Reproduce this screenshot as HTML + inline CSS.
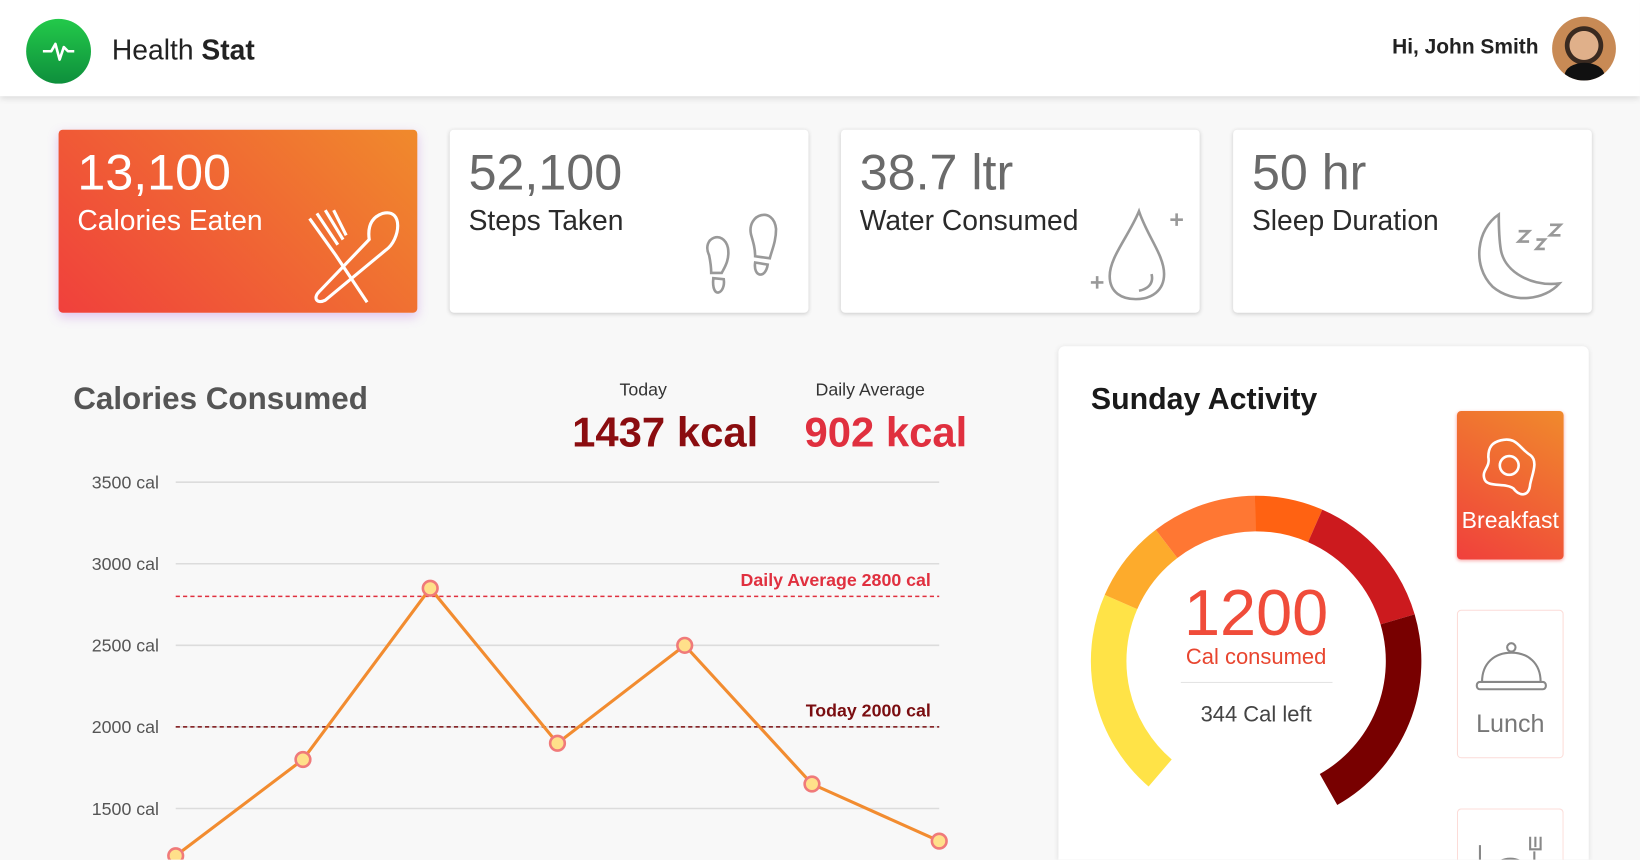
<!DOCTYPE html>
<html><head><meta charset="utf-8">
<style>
html,body{margin:0;padding:0;width:1640px;height:860px;overflow:hidden;background:#f8f8f8;font-family:"Liberation Sans",sans-serif;}
#wrap{position:absolute;left:0;top:0;width:1568px;height:822px;overflow:hidden;transform:scale(1.0459);transform-origin:0 0;}
.abs{position:absolute;}
.card{position:absolute;top:124px;width:343px;height:175px;background:#fff;border-radius:4px;box-shadow:0 1px 4px rgba(0,0,0,0.18);}
.num{position:absolute;left:18px;top:14px;font-size:48px;color:#6a6a6a;}
.lbl{position:absolute;left:18px;top:72px;font-size:27px;color:#2a2a2a;}
.card svg{position:absolute;}
</style></head><body>
<div id="wrap">
<div class="abs" style="left:0;top:0;width:1568px;height:92px;background:#fff;box-shadow:0 2px 6px rgba(0,0,0,0.12);z-index:2;">
  <div class="abs" style="left:25px;top:18px;width:62px;height:62px;border-radius:50%;background:linear-gradient(#23c94a,#0e8f3c);">
    <svg width="62" height="62"><polyline points="16,31 24,31 28,24 32,39 36,27 40,31 46,31" fill="none" stroke="#fff" stroke-width="2.5" stroke-linejoin="round"/></svg>
  </div>
  <div class="abs" style="left:107px;top:33px;font-size:27px;color:#222;">Health <b>Stat</b></div>
  <div class="abs" style="right:97px;top:34px;font-size:20px;font-weight:bold;color:#222;">Hi, John Smith</div>
  <div class="abs" style="left:1484px;top:16px;width:61px;height:61px;border-radius:50%;background:radial-gradient(circle at 50% 45%,#e0b08a 0 30%,#3a2a20 31% 40%,#c88a55 41%);overflow:hidden;"><div style="position:absolute;left:12px;top:44px;width:38px;height:24px;border-radius:50% 50% 0 0;background:#111;"></div></div>
</div>

<div class="card" style="left:56px;background:linear-gradient(45deg,#f0403c,#f08a2c 100%);box-shadow:0 4px 10px rgba(180,100,220,0.35);">
  <div class="num" style="color:#fff">13,100</div><div class="lbl" style="color:#fff">Calories Eaten</div>
  <svg style="left:235px;top:75px" width="95" height="95"><g fill="none" stroke="#fff" stroke-width="3"><path d="M5,10 L30,45 L60,90 M12,5 L32,35 M20,2 L37,30 M28,2 L40,26"/><path d="M75,5 C95,0 92,30 78,40 L20,88 C12,92 8,86 14,80 L62,30 C60,15 66,8 75,5Z"/></g></svg>
</div>
<div class="card" style="left:430px;">
  <div class="num">52,100</div><div class="lbl">Steps Taken</div>
  <svg style="left:240px;top:75px" width="80" height="95"><g fill="none" stroke="#999" stroke-width="2.5"><path d="M8,45 C0,28 22,20 26,38 C28,50 22,58 20,62 L10,62 C10,55 9,50 8,45Z"/><path d="M12,67 L22,68 C24,82 10,88 12,67Z"/><path d="M48,25 C44,5 70,-2 72,20 C72,32 68,40 66,48 L52,46 C52,38 50,32 48,25Z"/><path d="M52,52 L64,54 C62,68 50,66 52,52Z"/></g></svg>
</div>
<div class="card" style="left:804px;">
  <div class="num">38.7 ltr</div><div class="lbl">Water Consumed</div>
  <svg style="left:235px;top:72px" width="95" height="95"><g fill="none" stroke="#999" stroke-width="2.5"><path d="M50,6 C40,30 22,50 22,68 C22,84 34,90 47,90 C62,90 74,82 74,66 C74,48 58,30 50,6Z"/><path d="M50,82 C60,80 64,74 62,66"/><path d="M80,14 L92,14 M86,8 L86,20 M4,74 L16,74 M10,68 L10,80"/></g></svg>
</div>
<div class="card" style="left:1179px;">
  <div class="num">50 hr</div><div class="lbl">Sleep Duration</div>
  <svg style="left:228px;top:75px" width="100" height="95"><g fill="none" stroke="#999" stroke-width="2.5"><path d="M26,6 C5,20 0,55 20,75 C40,92 70,88 84,72 C58,75 32,62 28,40 C26,28 26,16 26,6Z"/><path d="M45,22 L55,22 L45,32 L55,32 M62,30 L70,30 L62,39 L70,39 M75,16 L85,16 L75,26 L85,26"/></g></svg>
</div>

<div class="abs" style="left:70px;top:365px;font-size:30px;font-weight:bold;color:#555;">Calories Consumed</div>
<div class="abs" style="left:555px;top:363px;width:120px;text-align:center;font-size:17px;color:#333;">Today</div>
<div class="abs" style="left:536px;top:392px;width:200px;text-align:center;font-size:40px;font-weight:bold;color:#8b0d10;">1437 kcal</div>
<div class="abs" style="left:762px;top:363px;width:140px;text-align:center;font-size:17px;color:#333;">Daily Average</div>
<div class="abs" style="left:747px;top:392px;width:200px;text-align:center;font-size:40px;font-weight:bold;color:#e0303f;">902 kcal</div>

<svg id="chart" class="abs" style="left:0;top:430px" width="1000" height="392"></svg>

<div class="abs" style="left:1012px;top:331px;width:507px;height:491px;overflow:hidden;background:#fff;border-radius:6px 6px 0 0;box-shadow:0 1px 5px rgba(0,0,0,0.1);">
  <div class="abs" style="left:31px;top:35px;font-size:29px;font-weight:bold;color:#1a1a1a;">Sunday Activity</div>
  <svg id="gauge" class="abs" style="left:0;top:0" width="370" height="490"></svg>
  <div class="abs" style="left:89px;top:220px;width:200px;text-align:center;font-size:62px;color:#f04c3a;">1200</div>
  <div class="abs" style="left:89px;top:286px;width:200px;text-align:center;font-size:21px;color:#e8452f;">Cal consumed</div>
  <div class="abs" style="left:117px;top:321px;width:145px;height:1px;background:#e4e4e4;"></div>
  <div class="abs" style="left:89px;top:341px;width:200px;text-align:center;font-size:21px;color:#444;">344 Cal left</div>
  <div class="abs" style="left:381px;top:62px;width:102px;height:142px;border-radius:4px;background:linear-gradient(30deg,#f0403c,#f08a2c);box-shadow:0 1px 3px rgba(240,60,60,0.4);">
    <svg style="position:absolute;left:22px;top:24px" width="58" height="62"><g fill="none" stroke="#fff" stroke-width="2.5"><path d="M20,4 C35,0 38,12 48,18 C56,24 50,36 48,46 C47,58 38,58 32,50 C24,44 6,50 4,40 C2,32 10,30 8,20 C8,10 12,6 20,4Z"/><circle cx="28" cy="28" r="9"/></g></svg>
    <div style="position:absolute;left:0;top:92px;width:102px;text-align:center;font-size:22px;color:#fff;">Breakfast</div>
  </div>
  <div class="abs" style="left:381px;top:252px;width:100px;height:140px;border-radius:4px;border:1px solid #fcdcd8;background:#fff;">
    <svg style="position:absolute;left:15px;top:28px" width="72" height="52"><g fill="none" stroke="#888" stroke-width="2"><circle cx="36" cy="7" r="4"/><path d="M8,40 C8,22 20,12 36,12 C52,12 64,22 64,40"/><rect x="3" y="40" width="66" height="7" rx="3"/></g></svg>
    <div style="position:absolute;left:0;top:95px;width:100px;text-align:center;font-size:24px;color:#777;">Lunch</div>
  </div>
  <div class="abs" style="left:381px;top:442px;width:100px;height:60px;border-radius:4px 4px 0 0;border:1px solid #fcdcd8;border-bottom:none;background:#fff;overflow:hidden;">
    <svg style="position:absolute;left:15px;top:22px" width="72" height="38"><g fill="none" stroke="#888" stroke-width="2"><path d="M6,40 L6,12 M18,40 C18,20 52,20 52,40 M28,40 C28,30 42,30 42,40 M58,40 L58,18 M54,4 L54,16 L64,16 L64,4 M59,4 L59,14"/></g></svg>
  </div>
</div>
</div>
<script>
const NS='http://www.w3.org/2000/svg';
const yTicks=[1500,2000,2500,3000,3500];
const tickLabels=['1500 cal','2000 cal','2500 cal','3000 cal','3500 cal'];
const days=['Mon','Tue','Wed','Thu','Fri','Sat','Sun'];
const calories=[1210,1800,2850,1900,2500,1650,1300];
const dailyAverage=[2800];
const todayTarget=[2000];
const gaugeSegments=[73,29,37,24,50,77];
const gaugeColors=['#ffe347','#fdab2c','#ff7733','#ff6212','#cc1a1e','#780000'];
const svg=document.getElementById('chart');
const X0=168,X1=898,OY=430;
function yS(v){return (695-(v-2000)/500*78)-OY;}
function xS(i){return X0+i*(X1-X0)/(days.length-1);}
function mk(t,a,p){const e=document.createElementNS(NS,t);for(const k in a)e.setAttribute(k,a[k]);(p||svg).appendChild(e);return e;}
yTicks.forEach((v,i)=>{
  const g=mk('line',{x1:X0,x2:X1,y1:yS(v),y2:yS(v),stroke:'#dcdcdc','stroke-width':1.5});
  
  
  const t=mk('text',{x:152,y:yS(v)+6,'text-anchor':'end','font-size':17,fill:'#555','font-family':'Liberation Sans'});
  t.textContent=tickLabels[i];
  
  
});
function refLine(v,color,label,name){
  const l=mk('line',{x1:X0,x2:X1,y1:yS(v),y2:yS(v),stroke:color,'stroke-width':1.5,'stroke-dasharray':'4,3'});
  
  
  const t=mk('text',{x:890,y:yS(v)-10,'text-anchor':'end','font-size':17,'font-weight':'bold',fill:color,'font-family':'Liberation Sans'});
  t.textContent=label;
  
  
}
refLine(dailyAverage[0],'#e0303f','Daily Average '+dailyAverage[0]+' cal','daily-average-line');
refLine(todayTarget[0],'#7a0d10','Today '+todayTarget[0]+' cal','today-line');
const pl=mk('polyline',{points:calories.map((v,i)=>xS(i)+','+yS(v)).join(' '),fill:'none',stroke:'#f28c30','stroke-width':3});


calories.forEach((v,i)=>{
  const c=mk('circle',{cx:xS(i),cy:yS(v),r:7,fill:'#ffe08a',stroke:'#f07a7a','stroke-width':2.5});
  
  
});
const gs=document.getElementById('gauge');
const cx=1201-1012,cy=632-331,R=141,W=34,start=130.6;
let a=start;
gaugeSegments.forEach((d,i)=>{
  const a0=a*Math.PI/180,a1=(a+d)*Math.PI/180;
  const p=mk('path',{d:`M${cx+R*Math.cos(a0)},${cy+R*Math.sin(a0)} A${R},${R} 0 ${d>180?1:0} 1 ${cx+R*Math.cos(a1)},${cy+R*Math.sin(a1)}`,fill:'none',stroke:gaugeColors[i],'stroke-width':W},gs);
  
  
  a+=d;
});
</script>
</body></html>
